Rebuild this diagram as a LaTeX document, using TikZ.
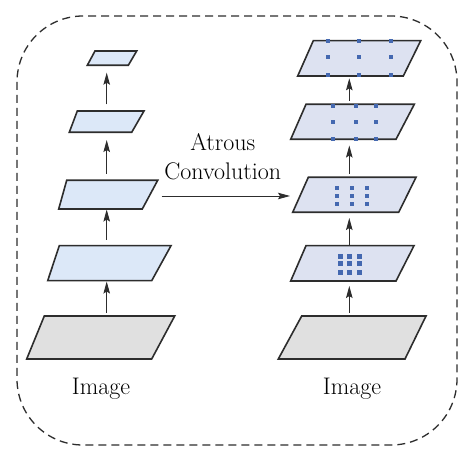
\documentclass[tikz,border=0pt]{standalone}
\usetikzlibrary{arrows.meta}
\definecolor{lblue}{RGB}{220,232,248}
\definecolor{rblue}{RGB}{221,226,241}
\definecolor{imggray}{RGB}{224,224,224}
\definecolor{dotblue}{RGB}{68,104,176}
\definecolor{edge}{RGB}{45,45,45}
\tikzset{
  layer/.style={draw=edge, line width=1.6pt, line join=miter},
  uparrow/.style={draw=edge, line width=0.9pt, -{Stealth[length=12pt,width=6.5pt,inset=2pt]}},
  frame/.style={draw=edge, line width=1.3pt, dash pattern=on 8pt off 5pt, rounded corners=66pt},
  lbl/.style={inner sep=0pt, font=\fontsize{24}{28}\selectfont, text=black},
  dot/.style={fill=dotblue, draw=none}
}
\newcommand{\sqdot}[3]{\fill[dot] (#1-#3,#2-#3) rectangle (#1+#3,#2+#3);}
\begin{document}
\begin{tikzpicture}[x=1pt,y=-1pt]
\useasboundingbox (0,0) rectangle (474,462);
\fill[white] (0,0) rectangle (474,462);
% frame
\draw[frame] (17,16) rectangle (457,445);

% left column
\draw[layer, fill=imggray] (44.3,316) -- (174.7,316) -- (151.7,359) -- (26.7,359) -- cycle;
\draw[layer, fill=lblue] (59.3,245.7) -- (171,245.7) -- (151.7,280.7) -- (47.7,280.7) -- cycle;
\draw[layer, fill=lblue] (66.7,180.3) -- (157.7,180.3) -- (142.3,209) -- (58.7,209) -- cycle;
\draw[layer, fill=lblue] (77.3,111) -- (144,111) -- (131.7,132.3) -- (69.3,132.3) -- cycle;
\draw[layer, fill=lblue] (95,51) -- (136.7,51) -- (128.3,65.3) -- (87.3,65.3) -- cycle;

\coordinate (La0) at (106.7,312.7); \coordinate (La1) at (106.7,281.5);
\coordinate (Lb0) at (106.7,240);   \coordinate (Lb1) at (106.7,209.5);
\coordinate (Lc0) at (106.7,174);   \coordinate (Lc1) at (106.7,140);
\coordinate (Ld0) at (106.7,104.3); \coordinate (Ld1) at (106.7,72.7);
\draw[uparrow] (La0) -- (La1);
\draw[uparrow] (Lb0) -- (Lb1);
\draw[uparrow] (Lc0) -- (Lc1);
\draw[uparrow] (Ld0) -- (Ld1);

% right column
\draw[layer, fill=imggray] (301.7,316) -- (426,316) -- (405,359) -- (278.3,359) -- cycle;
\draw[layer, fill=rblue] (306,245.7) -- (414,245.7) -- (396,281) -- (290.7,281) -- cycle;
\draw[layer, fill=rblue] (308.3,177.3) -- (416,177.3) -- (398.7,212.3) -- (292.7,212.3) -- cycle;
\draw[layer, fill=rblue] (306,104.3) -- (414.3,104.3) -- (396,139.3) -- (290.7,139.3) -- cycle;
\draw[layer, fill=rblue] (313.3,40.7) -- (420.7,40.7) -- (403.3,76) -- (297.7,76) -- cycle;

% dots
\foreach \x in {340,349.3,359} \foreach \y in {256.7,264,272.7} {\sqdot{\x}{\y}{2.5}}
\foreach \x in {336.7,351.7,367.3} \foreach \y in {187.7,196,204} {\sqdot{\x}{\y}{2}}
\foreach \x in {333.3,356,376} \foreach \y in {105.7,121.7,139.3} {\sqdot{\x}{\y}{2}}
\foreach \x in {328.3,359.3,391} \foreach \y in {40.7,56.7,74.7} {\sqdot{\x}{\y}{2}}

\coordinate (Ra0) at (349.3,312.7); \coordinate (Ra1) at (349.3,286);
\coordinate (Rb0) at (349.3,245.7); \coordinate (Rb1) at (349.3,218);
\coordinate (Rc0) at (349.3,174);   \coordinate (Rc1) at (349.3,145.5);
\coordinate (Rd0) at (349.3,101);   \coordinate (Rd1) at (349.3,78.3);
\draw[uparrow] (Ra0) -- (Ra1);
\draw[uparrow] (Rb0) -- (Rb1);
\draw[uparrow] (Rc0) -- (Rc1);
\draw[uparrow] (Rd0) -- (Rd1);

% horizontal arrow
\coordinate (H0) at (161.7,196); \coordinate (H1) at (290,196);
\draw[uparrow] (H0) -- (H1);

% labels
\node[lbl] (atrous) at (222.7,142) {Atrous};
\node[lbl] (conv) at (222.7,171) {Convolution};
\node[lbl] (imgL) at (101,389) {Image};
\node[lbl] (imgR) at (352,389) {Image};
\end{tikzpicture}
\end{document}
